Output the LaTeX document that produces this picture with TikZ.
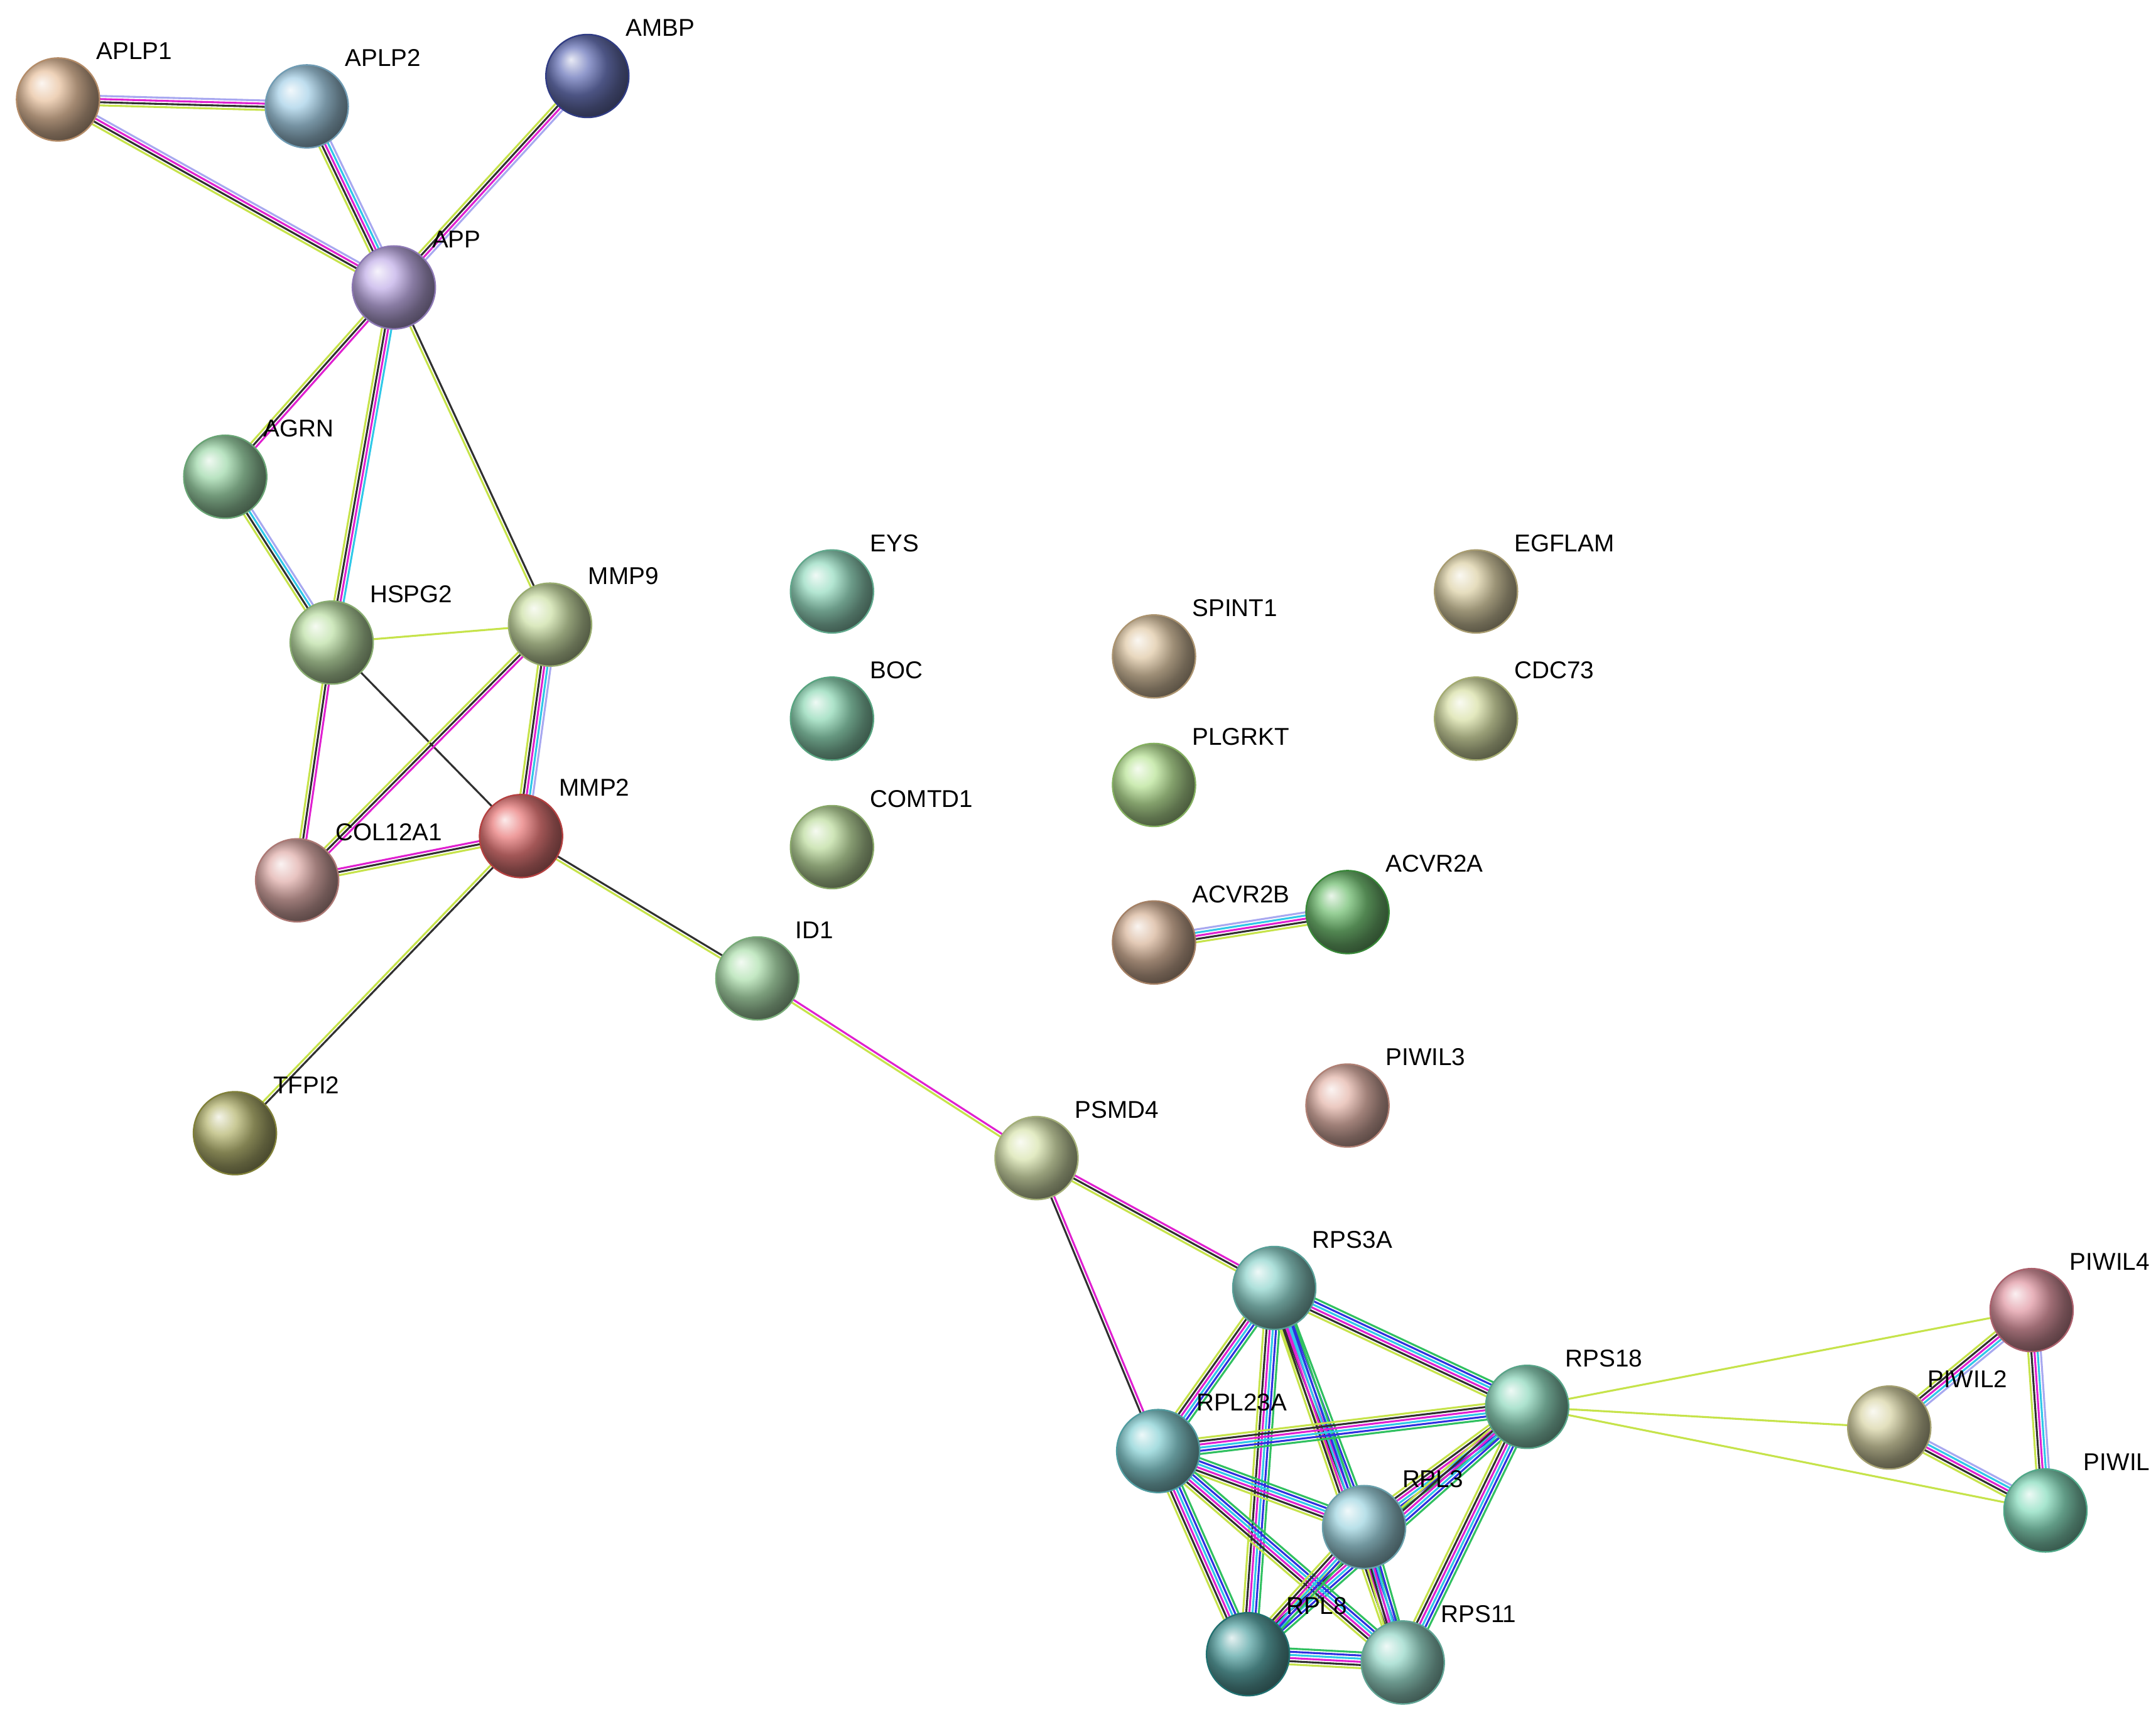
\documentclass[tikz,border=0pt]{standalone}
\usepackage{fontspec}
\setmainfont{Liberation Sans}
\usetikzlibrary{calc}
\definecolor{yg}{HTML}{C6E34A}
\definecolor{mg}{HTML}{E020D0}
\definecolor{cy}{HTML}{30C8E8}
\definecolor{lv}{HTML}{A8A8F0}
\definecolor{bl}{HTML}{3030E0}
\definecolor{gr}{HTML}{30C060}
\definecolor{bk}{HTML}{303030}
\tikzset{
 prot/.style={circle,minimum size=0.6cm,inner sep=0pt,ball color=#1!75!white,draw=#1!80!black,line width=0.3pt},
 lab/.style={anchor=west,font=\fontsize{5}{6}\selectfont,inner sep=0pt},
}
\newcommand{\edge}[3]{%
 \foreach \c [count=\n] in {#3}{\xdef\ncnt{\n}}%
 \foreach \c [count=\i] in {#3}{%
  \pgfmathsetmacro{\off}{(\i-(\ncnt+1)/2)*0.65}%
  \draw[\c,line width=0.4pt] ($(#1)!\off pt!90:(#2)$) -- ($(#2)!\off pt!-90:(#1)$);}%
}
\begin{document}
\begin{tikzpicture}[x=0.01cm,y=-0.01cm]
\useasboundingbox[fill=white] (0,0) rectangle (1560,1237);
\foreach \nm/\x/\y in {APLP1/42/72,APLP2/222/77,AMBP/425/55,APP/285/208,AGRN/163/345,HSPG2/240/465,MMP9/398/452,COL12A1/215/637,MMP2/377/605,TFPI2/170/820,ID1/548/708,EYS/602/428,BOC/602/520,COMTD1/602/613,SPINT1/835/475,PLGRKT/835/568,EGFLAM/1068/428,CDC73/1068/520,ACVR2B/835/682,ACVR2A/975/660,PIWIL3/975/800,PSMD4/750/838,RPS3A/922/932,RPS18/1105/1018,RPL23A/838/1050,RPL3/987/1105,RPL8/903/1197,RPS11/1015/1203,PIWIL4/1470/948,PIWIL2/1367/1033,PIWIL1/1480/1093}
 {\coordinate (\nm) at (\x,\y);}
\edge{APLP1}{APLP2}{yg,bk,mg,lv}
\edge{APLP1}{APP}{yg,bk,mg,lv}
\edge{APLP2}{APP}{yg,bk,mg,cy,lv}
\edge{AMBP}{APP}{yg,bk,mg,lv}
\edge{APP}{AGRN}{yg,bk,mg}
\edge{APP}{HSPG2}{yg,bk,mg,cy}
\edge{APP}{MMP9}{yg,bk}
\edge{AGRN}{HSPG2}{yg,bk,cy,lv}
\edge{HSPG2}{MMP9}{yg}
\edge{HSPG2}{COL12A1}{yg,bk,mg}
\edge{HSPG2}{MMP2}{bk}
\edge{MMP9}{COL12A1}{yg,bk,mg}
\edge{MMP9}{MMP2}{yg,bk,mg,cy,lv}
\edge{COL12A1}{MMP2}{yg,bk,mg}
\edge{MMP2}{TFPI2}{yg,bk}
\edge{MMP2}{ID1}{yg,bk}
\edge{ID1}{PSMD4}{yg,mg}
\edge{PSMD4}{RPS3A}{yg,bk,mg}
\edge{PSMD4}{RPL23A}{bk,mg}
\edge{ACVR2B}{ACVR2A}{yg,bk,mg,cy,lv}
\foreach \a/\b in {RPS3A/RPS18,RPS3A/RPL23A,RPS3A/RPL3,RPS3A/RPL8,RPS3A/RPS11,RPS18/RPL23A,RPS18/RPL3,RPS18/RPL8,RPS18/RPS11,RPL23A/RPL3,RPL23A/RPL8,RPL23A/RPS11,RPL3/RPL8,RPL3/RPS11,RPL8/RPS11}
 {\edge{\a}{\b}{yg,bk,mg,cy,bl,gr}}
\edge{RPS18}{PIWIL4}{yg}
\edge{RPS18}{PIWIL2}{yg}
\edge{RPS18}{PIWIL1}{yg}
\edge{PIWIL4}{PIWIL2}{yg,bk,mg,cy,lv}
\edge{PIWIL4}{PIWIL1}{yg,bk,mg,cy,lv}
\edge{PIWIL2}{PIWIL1}{yg,bk,mg,cy,lv}
\foreach \nm/\col/\t in {APLP1/E1AF82/APLP1,APLP2/8CC3E1/APLP2,AMBP/3C4BA5/AMBP,APP/AF96E1/APP,AGRN/82CD91/AGRN,HSPG2/AAD78C/HSPG2,MMP9/BED78C/MMP9,COL12A1/D79691/COL12A1,MMP2/E15050/MMP2,TFPI2/A0A046/TFPI2,ID1/96D796/ID1,EYS/78D2AF/EYS,BOC/6ECDA0/BOC,COMTD1/AAD282/COMTD1,SPINT1/D7B98C/SPINT1,PLGRKT/A5DC78/PLGRKT,EGFLAM/D2C38C/EGFLAM,CDC73/CDD78C/CDC73,ACVR2B/CDA07D/ACVR2B,ACVR2A/46AA46/ACVR2A,PIWIL3/DCA091/PIWIL3,PSMD4/CDDC96/PSMD4,RPS3A/6EC8BE/RPS3A,RPS18/6ECDAA/RPS18,RPL23A/64C3C8/RPL23A,RPL3/82C8D7/RPL3,RPL8/288C8C/RPL8,RPS11/78CDB9/RPS11,PIWIL4/D77887/PIWIL4,PIWIL2/CDC88C/PIWIL2,PIWIL1/64D2AA/PIWIL}
{\definecolor{c\nm}{HTML}{\col}
 \node[prot=c\nm] (n\nm) at (\nm) {};
 \node[lab] (l\nm) at ($(\nm)+(27,-35)$) {\t};}
\end{tikzpicture}
\end{document}
